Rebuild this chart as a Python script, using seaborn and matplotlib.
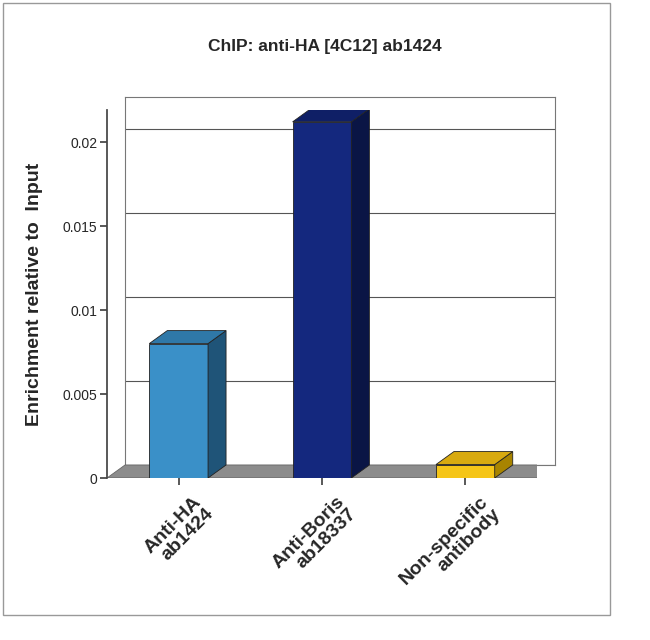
import matplotlib
matplotlib.use("Agg")
import matplotlib.pyplot as plt
import matplotlib.transforms as mtrans
from matplotlib.patches import Polygon, Rectangle
import seaborn as sns
import pandas as pd

categories = ["Anti-HA\nab1424", "Anti-Boris\nab18337", "Non-specific\nantibody"]
values = [0.0080, 0.0212, 0.0008]
front_colors = ["#3a90c8", "#14287e", "#f5c518"]
side_colors = ["#1f5478", "#0a1545", "#a88400"]
top_colors = ["#2f78a8", "#0f1f66", "#d8aa10"]
yticks = [0, 0.005, 0.01, 0.015, 0.02]
ytick_labels = ["0", "0.005", "0.01", "0.015", "0.02"]

sns.set_theme(style="white")
plt.rcParams['font.family'] = ['Liberation Sans', 'DejaVu Sans']

W, H = 650, 640
fig = plt.figure(figsize=(W/100, H/100), dpi=100)
fig.patches.append(Rectangle((3/W, 25/H), 607/W, 612/H, transform=fig.transFigure,
                             fill=False, ec="#999999", lw=1))

dx, dy = 18, 13
left, right, bottom_px, top_px = 107, 537, 478, 110
ymax = 0.005 * (bottom_px - top_px) / 84.0
rect = [left/W, (H-bottom_px)/H, (right-left)/W, (bottom_px-top_px)/H]
back = fig.add_axes([rect[0]+dx/W, rect[1]+dy/H, rect[2], rect[3]])
back.set_ylim(0, ymax); back.set_xlim(-0.5, 2.5)
back.set_yticks(yticks); back.set_yticklabels([]); back.set_xticks([])
back.grid(axis="y", color="#555555", lw=0.8)
for s in back.spines.values():
    s.set_color("#777777"); s.set_linewidth(0.8)

ax = fig.add_axes(rect)
ax.patch.set_alpha(0)
df = pd.DataFrame({"cat": categories, "val": values})
sns.barplot(data=df, x="cat", y="val", hue="cat", palette=front_colors,
            width=0.41, ax=ax, legend=False, saturation=1, ec="#222222", lw=0.6, zorder=3)
ax.set_ylim(0, ymax); ax.set_xlim(-0.5, 2.5)
for s in ["top", "right", "bottom"]:
    ax.spines[s].set_visible(False)
ax.spines["left"].set_color("#444444")
ax.set_yticks(yticks); ax.set_yticklabels(ytick_labels, fontsize=10)
ax.tick_params(axis="y", left=True, length=5, color="#444444", pad=2)
ax.set_xlabel("")
ax.set_ylabel("Enrichment relative to  Input", fontsize=14, fontweight="bold", labelpad=14)
ax.set_xticks(range(3))
ax.set_xticklabels(categories, rotation=45, ha="right", rotation_mode="anchor",
                   fontsize=14, fontweight="bold", linespacing=1.0)
ax.tick_params(axis="x", pad=6, bottom=True, length=5, color="#444444")
for lbl in ax.get_xticklabels():
    lbl.set_x(lbl.get_position()[0])
    lbl.set_transform(lbl.get_transform() + mtrans.ScaledTranslation(14/100, 0, fig.dpi_scale_trans))

off = mtrans.offset_copy(ax.transData, fig=fig, x=dx, y=dy, units="dots")
fig_floor = [ax.transData.transform((-0.5, 0)), ax.transData.transform((2.5, 0)),
             off.transform((2.5, 0)), off.transform((-0.5, 0))]
ax.add_patch(Polygon(fig_floor, closed=True, transform=None, fc="#8c8c8c",
                     ec="#666666", lw=0.6, zorder=1))
ax.axhline(0, color="#444444", lw=0.8, zorder=2)

for p, sc, tc in zip(ax.patches[:3], side_colors, top_colors):
    x0, w, h = p.get_x(), p.get_width(), p.get_height()
    x1 = x0 + w
    d = ax.transData.transform
    o = off.transform
    side = [d((x1, 0)), o((x1, 0)), o((x1, h)), d((x1, h))]
    top = [d((x0, h)), d((x1, h)), o((x1, h)), o((x0, h))]
    ax.add_patch(Polygon(side, closed=True, transform=None, fc=sc, ec="#222222", lw=0.6, zorder=3))
    ax.add_patch(Polygon(top, closed=True, transform=None, fc=tc, ec="#222222", lw=0.6, zorder=3))

fig.text(0.5, 1 - 47/H, "ChIP: anti-HA [4C12] ab1424", ha="center", va="center",
         fontsize=12.5, fontweight="bold")
fig.savefig("out.png", dpi=100)
